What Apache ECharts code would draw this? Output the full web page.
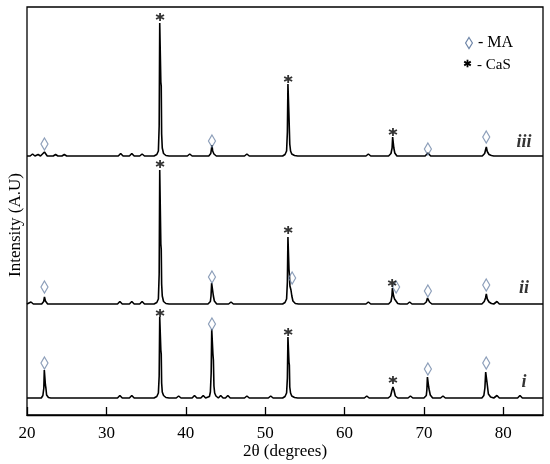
<!DOCTYPE html>
<html>
<head>
<meta charset="utf-8">
<script src="https://cdn.jsdelivr.net/npm/echarts@6/dist/echarts.min.js"></script>
<style>html,body{margin:0;padding:0;background:#fff}#c{width:550px;height:464px}</style>
</head>
<body>
<div id="c"></div>
<script>
// ---- data (2θ in degrees, intensity in arbitrary units above each trace's baseline)
const xTicks = [20, 30, 40, 50, 60, 70, 80];
const patternNames = ['i', 'ii', 'iii'];
const baselines = [17, 111, 259];

const traceI = [
[20,0],[21.8,0],[22.0,2.5],[22.12,10],[22.18,28],[22.26,28],[22.32,13],[22.38,10],[22.47,3],[22.7,0.5],[23.0,0],
[31.4,0],[31.7,2.5],[32.0,0],[32.9,0],[33.2,2.5],[33.5,0],
[36.0,0],[36.35,1.5],[36.55,5],[36.65,22],[36.72,81],[36.8,81],[36.86,48],[36.91,44],[36.96,15],[37.04,6],[37.2,2.5],[37.5,0.5],[37.9,0],
[38.8,0],[39.1,2],[39.4,0],[40.8,0],[41.1,2.5],[41.4,0],[41.9,0],[42.2,2.5],[42.5,0],
[42.7,0],[42.98,1.5],[43.1,6],[43.2,25],[43.27,69],[43.35,69],[43.42,44],[43.48,38],[43.55,12],[43.64,5],[43.8,2],[44.1,0],
[44.4,2.5],[44.7,0],[45.0,0],[45.3,2.5],[45.6,0],[47.4,0],[47.7,2],[48.0,0],
[50.4,0],[50.7,2],[51.0,0],
[52.2,0],[52.5,1.5],[52.7,5],[52.8,20],[52.87,61],[52.95,61],[53.0,36],[53.05,33],[53.1,11],[53.2,5],[53.35,2],[53.7,0.5],[54.1,0],
[62.5,0],[62.8,2],[63.1,0],
[65.5,0],[65.8,2],[65.98,8],[66.1,11],[66.22,8],[66.4,2],[66.7,0],
[68.0,0],[68.3,2],[68.6,0],
[70.0,0],[70.3,2.5],[70.37,8],[70.44,21],[70.53,21],[70.6,11],[70.67,8],[70.8,3],[71.1,0],
[72.1,0],[72.4,2],[72.7,0],
[77.3,0],[77.55,2.5],[77.68,10],[77.78,26],[77.87,26],[77.94,16],[78.0,12],[78.12,4],[78.4,1],[78.8,0],
[78.9,0],[79.2,2.5],[79.5,0],[81.8,0],[82.1,2.5],[82.4,0],
[85,0]
];

const traceII = [
[20,0],[20.2,0],[20.5,2],[20.8,0],[21.85,0],[22.1,2.5],[22.2,7],[22.32,3],[22.6,0],
[31.4,0],[31.7,2.5],[32.0,0],[32.9,0],[33.2,2.5],[33.5,0],[34.2,0],[34.5,2.5],[34.8,0],
[36.0,0],[36.35,1.5],[36.55,5],[36.65,30],[36.72,134],[36.8,134],[36.86,60],[36.91,55],[36.96,20],[37.04,8],[37.2,2.5],[37.5,0.5],[37.9,0],
[42.8,0],[43.1,2.5],[43.18,8],[43.26,21],[43.34,21],[43.41,12],[43.48,8],[43.6,3],[43.9,0],
[45.4,0],[45.7,2],[46.0,0],
[52.2,0],[52.5,1.5],[52.7,5],[52.8,22],[52.87,67],[52.95,67],[53.0,35],[53.05,30],[53.12,18],[53.25,14],[53.36,8],[53.5,3],[53.8,0.5],[54.2,0],
[62.7,0],[63.0,2],[63.3,0],
[65.55,0],[65.85,2.5],[65.97,8],[66.03,16],[66.11,16],[66.18,8],[66.3,5],[66.45,3],[66.7,0.5],[67.0,0],
[67.9,0],[68.2,2],[68.5,0],
[70.0,0],[70.3,2],[70.45,6],[70.56,5],[70.7,2],[71.0,0],
[77.3,0],[77.6,2.5],[77.76,6],[77.86,10],[77.98,5],[78.2,2],[78.5,0.5],[78.8,0],
[78.9,0],[79.2,2.5],[79.5,0],
[85,0]
];

const traceIII = [
[20,0],[20.4,0],[20.7,2],[21.0,0],[21.1,0],[21.4,1.5],[21.7,0],[21.85,0],[22.2,4],[22.55,0],
[23.3,0],[23.6,1.5],[23.9,0],[24.4,0],[24.7,1.5],[25.0,0],
[31.5,0],[31.8,2.5],[32.1,0],[32.9,0],[33.2,2.5],[33.5,0],[34.2,0],[34.5,2],[34.8,0],
[36.0,0],[36.35,1.5],[36.55,5],[36.65,30],[36.72,133],[36.8,133],[36.86,74],[36.91,70],[36.96,22],[37.04,8],[37.2,2.5],[37.5,0.5],[37.9,0],
[40.2,0],[40.5,2],[40.8,0],
[42.9,0],[43.15,2.5],[43.23,7],[43.3,11],[43.39,5],[43.55,2],[43.85,0],
[47.4,0],[47.7,2],[48.0,0],
[52.2,0],[52.5,1.5],[52.7,5],[52.8,24],[52.87,72],[52.95,72],[53.0,40],[53.05,38],[53.1,12],[53.2,5],[53.35,2],[53.7,0.5],[54.1,0],
[62.7,0],[63.0,2],[63.3,0],
[65.55,0],[65.85,2.5],[65.99,8],[66.06,19],[66.14,19],[66.21,8],[66.33,3],[66.6,0],
[70.15,0],[70.5,3],[70.85,0],
[77.35,0],[77.65,2.5],[77.76,6],[77.86,9],[77.98,4.5],[78.2,1.5],[78.5,0.5],[78.8,0],
[85,0]
];

// phase markers: [2θ, height above baseline]
const maI   = [[22.2,35],[43.3,74],[70.5,29],[77.85,35]];
const casI  = [[36.76,85],[52.9,66],[66.1,18]];
const maII  = [[22.2,17],[43.3,27],[53.4,26],[66.5,17],[70.5,13],[77.85,19]];
const casII = [[36.76,140],[52.9,74],[66.0,21]];
const maIII = [[22.2,12],[43.3,15],[70.5,7],[77.85,19]];
const casIII= [[36.76,139],[52.9,77],[66.1,24]];

// pattern label positions: [2θ, height above baseline]
const labelPos = [[82.6,16],[82.6,16],[82.6,14]];

// ---- build
const traces = [traceI, traceII, traceIII];
const maSets = [maI, maII, maIII];
const casSets = [casI, casII, casIII];
const shift = (arr, b) => arr.map(p => [p[0], p[1] + b]);

const FONT = 'Liberation Serif';
const STAR = 'path://M5,0L5,10M0.67,2.5L9.33,7.5M0.67,7.5L9.33,2.5';

const series = [];
traces.forEach((t, k) => {
  series.push({
    type: 'line', data: shift(t, baselines[k]), showSymbol: false, symbol: 'none',
    lineStyle: { color: '#000', width: 1.6 }, silent: true, z: 2
  });
});
maSets.forEach((m, k) => {
  series.push({
    type: 'scatter', data: shift(m, baselines[k]), symbol: 'diamond', symbolSize: [7, 12],
    itemStyle: { color: 'rgba(255,255,255,0)', borderColor: '#6f86a8', borderWidth: 1.3 }, z: 3
  });
});
casSets.forEach((c, k) => {
  series.push({
    type: 'scatter', data: shift(c, baselines[k]), symbol: STAR, symbolSize: 8,
    itemStyle: { color: '#000', borderColor: '#000', borderWidth: 1.8 }, z: 3
  });
});
series.push({
  type: 'scatter', symbolSize: 0,
  data: labelPos.map((p, k) => ({ value: [p[0], p[1] + baselines[k]], name: patternNames[k] })),
  label: { show: true, position: 'inside', formatter: p => p.name,
    fontFamily: FONT, fontStyle: 'italic', fontWeight: 'bold', fontSize: 18, color: '#000' },
  z: 4
});

// legend asterisk made from three short strokes
const lc = [467.5, 63.5], lr = 3.8;
const starLines = [[0, 1], [0.866, 0.5], [0.866, -0.5]].map(d => ({
  type: 'line',
  shape: { x1: lc[0] - d[0] * lr, y1: lc[1] - d[1] * lr, x2: lc[0] + d[0] * lr, y2: lc[1] + d[1] * lr },
  style: { stroke: '#000', lineWidth: 1.8 }
}));

const chart = echarts.init(document.getElementById('c'));
chart.setOption({
  animation: false,
  backgroundColor: '#fff',
  grid: { left: 27, right: 7, top: 7, bottom: 49, show: true, borderColor: '#000', borderWidth: 1.3, backgroundColor: 'transparent' },
  xAxis: {
    type: 'value', min: 20, max: 85, interval: 10,
    axisLine: { show: true, lineStyle: { color: '#000', width: 1.3 } },
    axisTick: { show: true, inside: true, length: 8, lineStyle: { color: '#000', width: 1.3 }, customValues: xTicks },
    axisLabel: { customValues: xTicks, fontFamily: FONT, fontSize: 17, color: '#000', margin: 10 },
    splitLine: { show: false }
  },
  yAxis: {
    type: 'value', min: 0, max: 408,
    axisLine: { show: false }, axisTick: { show: false }, axisLabel: { show: false }, splitLine: { show: false }
  },
  graphic: [
    { type: 'text', x: 15.5, y: 225, rotation: Math.PI / 2,
      style: { text: 'Intensity (A.U)', font: '17px "Liberation Serif"', fill: '#000', textAlign: 'center', textVerticalAlign: 'middle' } },
    { type: 'text', x: 285, y: 452,
      style: { text: '2θ (degrees)', font: '17px "Liberation Serif"', fill: '#000', textAlign: 'center', textVerticalAlign: 'middle' } },
    { type: 'polygon', shape: { points: [[469, 37.5], [472.4, 43], [469, 48.5], [465.6, 43]] },
      style: { fill: 'none', stroke: '#6f86a8', lineWidth: 1.2 } },
    { type: 'text', x: 478, y: 43,
      style: { text: '- MA', font: '16px "Liberation Serif"', fill: '#000', textAlign: 'left', textVerticalAlign: 'middle' } },
    ...starLines,
    { type: 'text', x: 477, y: 65,
      style: { text: '- CaS', font: '15px "Liberation Serif"', fill: '#000', textAlign: 'left', textVerticalAlign: 'middle' } }
  ],
  series: series
});
</script>
</body>
</html>
